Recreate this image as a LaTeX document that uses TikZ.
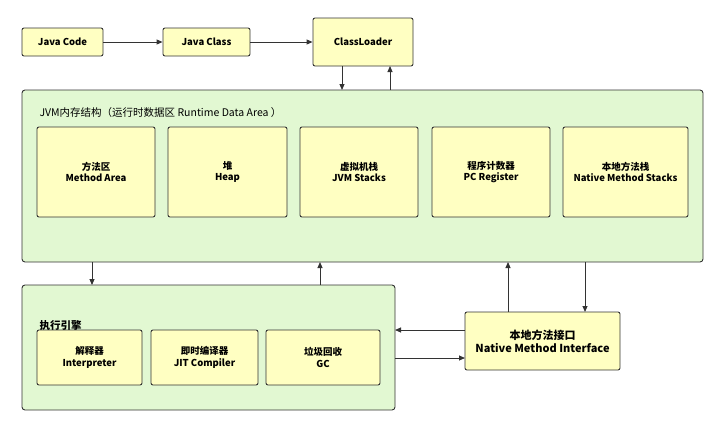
\documentclass[tikz,border=0pt]{standalone}
\usepackage{fontspec}
\setmainfont{Noto Sans CJK SC}
\usetikzlibrary{arrows.meta}
\definecolor{yel}{HTML}{FFFFC2}
\definecolor{grn}{HTML}{E2F8D2}
\definecolor{edge}{HTML}{333333}
\begin{document}
\begin{tikzpicture}[x=1pt,y=-1pt,
  box/.style={draw=edge,line width=0.9pt,fill=yel,rounded corners=2pt,font=\fontsize{9.5}{11.5}\selectfont\bfseries,align=center,inner sep=0pt},
  area/.style={draw=edge,line width=0.9pt,fill=grn,rounded corners=3pt},
  arr/.style={-{Triangle[length=6pt,width=5pt]},line width=1pt,draw=edge}]
\useasboundingbox (0,0) rectangle (720,429);
\newcommand{\bx}[5]{\node[box,minimum width=#3-#2,minimum height=#5-#4] (#1) at ({(#2+#3)/2},{(#4+#5)/2})}
\bx{jc}{22}{103}{28}{56}{Java Code};
\bx{jcl}{163}{250}{28}{56}{Java Class};
\bx{cl}{313}{413}{18}{66}{ClassLoader};
\node[area,minimum width=681,minimum height=172] (jvm) at (362.5,176) {};
\node[anchor=west,font=\fontsize{10.5}{12}\selectfont] (jt) at (36,113) {JVM内存结构（运行时数据区 Runtime Data Area ）};
\bx{m}{37}{155}{127}{217}{方法区\\Method Area};
\bx{h}{168}{287}{127}{217}{堆\\Heap};
\bx{s}{300}{418}{127}{217}{虚拟机栈\\JVM Stacks};
\bx{p}{432}{550}{127}{217}{程序计数器\\PC Register};
\bx{n}{563}{688}{127}{217}{本地方法栈\\Native Method Stacks};
\node[area,minimum width=373,minimum height=125] (ex) at (208.5,347.5) {};
\node[anchor=west,font=\fontsize{10.5}{12}\selectfont\bfseries] (et) at (36,326) {执行引擎};
\bx{i}{37}{142}{330}{385}{解释器\\Interpreter};
\bx{jit}{151}{258}{330}{385}{即时编译器\\JIT Compiler};
\bx{gc}{266}{380}{330}{385}{垃圾回收\\GC};
\node[box,minimum width=155,minimum height=58,font=\fontsize{11}{13}\selectfont\bfseries] (ni) at (542.5,341) {本地方法接口\\Native Method Interface};
\draw[arr] (jc) -- (jcl);
\draw[arr] (jcl.east) -- (jcl.east -| cl.west);
\draw[arr] (342,66) -- (342,90);
\draw[arr] (390,90) -- (390,66);
\draw[arr] (92,262) -- (92,285);
\draw[arr] (320,285) -- (320,262);
\draw[arr] (508,312) -- (508,262);
\draw[arr] (585,262) -- (585,312);
\draw[arr] (465,330) -- (395,330);
\draw[arr] (395,358) -- (465,358);
\end{tikzpicture}
\end{document}
